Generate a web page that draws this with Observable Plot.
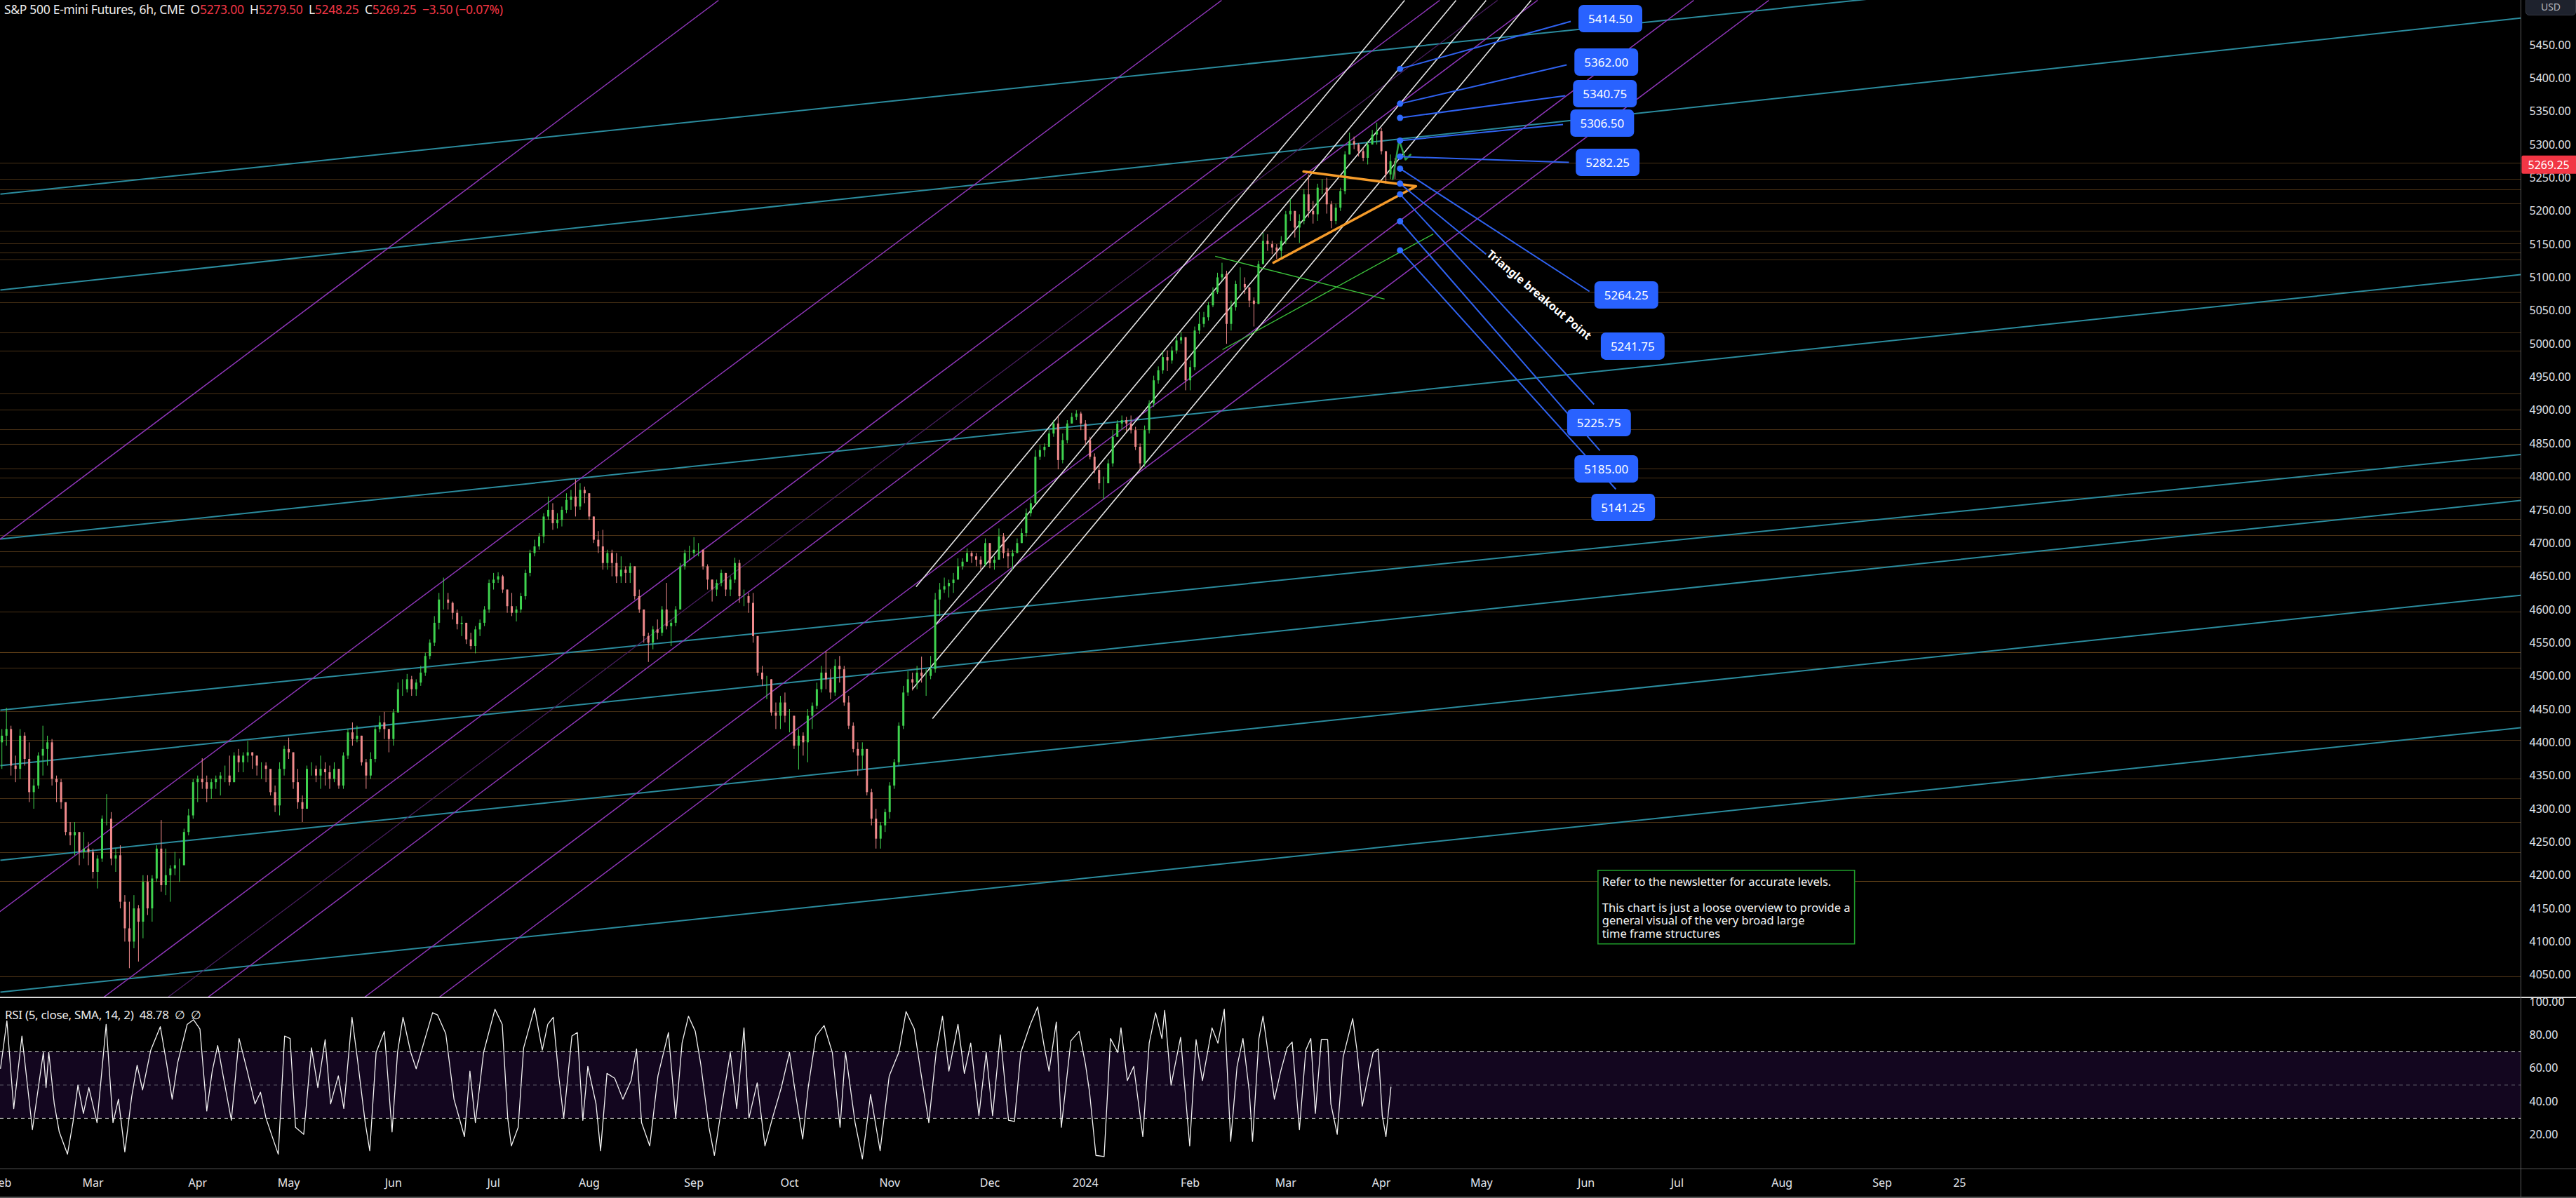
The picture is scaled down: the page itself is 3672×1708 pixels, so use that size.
<!DOCTYPE html>
<html>
<head>
<meta charset="utf-8">
<script src="https://cdn.jsdelivr.net/npm/d3@7"></script>
<script src="https://cdn.jsdelivr.net/npm/@observablehq/plot@0.6"></script>
<style>
  html, body { margin: 0; padding: 0; background: #000; }
  #wrap { position: relative; width: 3672px; height: 1708px; overflow: hidden; background: #000; font-family: "Noto Sans", sans-serif; }
  #wrap svg { display: block; }
  .title { position: absolute; left: 6px; top: 1px; font-size: 17.5px; color: #ececec; white-space: pre; letter-spacing: -0.3px; }
  .title .v { color: #f23645; }
  .rsilab { position: absolute; left: 7px; top: 1435px; font-size: 17px; color: #ececec; white-space: pre; letter-spacing: -0.3px; }
  .usd { position: absolute; left: 3600px; top: -4px; width: 70px; height: 24px; background: #1e222d; border: 1px solid #363a45; border-radius: 5px; color: #b2b5be; font-size: 14px; text-align: center; line-height: 26px; }
  .hline { position: absolute; left: 0; width: 3672px; }
  .vline { position: absolute; top: 0; width: 1px; height: 1708px; background: #5a5a5a; left: 3593px; }
</style>
</head>
<body>
<div id="wrap"></div>
<script>
// ---------------- DATA ----------------
const instrument = "S&P 500 E-mini Futures, 6h, CME";
const ohlcLetters = ["O", "H", "L", "C"];
const ohlcValues = [5273.00, 5279.50, 5248.25, 5269.25];
const changeText = "\u22123.50 (\u22120.07%)";
const rsiTitle = "RSI (5, close, SMA, 14, 2)";
const rsiLast = 48.78;

// daily candles, one per weekday starting 2023-02-01 (index = weekday number)
const firstDay = "2023-02-01";
const firstOpen = 4400;
const candleHigh = [
  4420,4452,4425,4380,4420,4415,4400,4345,4385,4425,4410,4405,4350,4345,4305,4280,4280,4250,4265,4250,
  4240,4230,4290,4322,4295,4240,4245,4170,4160,4170,4155,4200,4200,4200,4245,4283,4240,4215,4235,4225,4270,4300,4345,
  4350,4376,4350,4345,4350,4355,4365,4380,4385,4390,4385,4402,4385,4380,4370,4370,4355,4335,4370,4395,
  4407,4385,4360,4320,4365,4370,4365,4380,4370,4365,4370,4360,4385,4420,4430,4425,4410,4375,4385,4425,4440,4446,4420,
  4450,4490,4495,4503,4500,4495,4515,4535,4555,4590,4625,4648,4625,4612,4600,4590,4580,4565,4575,4585,4605,4645,
  4655,4656,4652,4630,4625,4605,4625,4660,4690,4705,4715,4745,4770,4760,4745,4755,4775,4780,4796,4790,4785,
  4775,4740,4718,4720,4690,4690,4685,4680,4665,4670,4665,4630,4600,4565,4575,4585,4605,4640,4585,4605,4670,4690,4696,
  4709,4700,4690,4668,4645,4645,4660,4655,4650,4678,4675,4630,4625,4625,4560,4515,4500,4495,4460,4470,4475,
  4450,4440,4420,4415,4450,4460,4490,4515,4537,4510,4525,4530,4515,4470,4430,4400,4400,4385,4330,4300,4280,4300,
  4340,4375,4430,4485,4507,4505,4515,4529,4510,4530,4625,4640,4648,4645,4655,4677,4677,4692,4688,4685,4680,4707,
  4700,4680,4722,4715,4692,4690,4707,4722,4752,4766,4840,4848,4850,4870,4885,4892,4865,4885,4896,4900,4898,
  4885,4860,4835,4818,4800,4826,4870,4885,4892,4890,4892,4875,4850,4877,4915,4952,4966,4989,4990,4996,5011,5018,5005,
  4975,5026,5048,5048,5063,5085,5107,5122,5110,5065,5095,5115,5100,5085,5070,5125,5167,5165,5155,5150,5162,
  5200,5218,5200,5195,5233,5255,5215,5241,5248,5250,5215,5211,5235,5290,5318,5312,5302,5295,5305,5322,5333,
  5325,5290,5285,5279.5
];
const candleLow = [
  4360,4395,4350,4340,4345,4365,4310,4300,4330,4350,4365,4335,4310,4300,4260,4245,4230,4215,4225,4215,
  4195,4180,4220,4275,4215,4205,4150,4100,4060,4090,4070,4105,4140,4130,4190,4175,4170,4160,4200,4190,4215,4260,4285,
  4310,4330,4310,4315,4330,4320,4340,4335,4340,4355,4355,4370,4360,4350,4345,4340,4320,4295,4290,4350,
  4375,4330,4300,4280,4300,4350,4340,4330,4335,4330,4340,4330,4330,4375,4395,4400,4365,4330,4345,4370,4415,4405,4385,
  4395,4445,4470,4475,4470,4470,4485,4500,4525,4545,4570,4600,4600,4585,4570,4560,4548,4540,4534,4560,4575,4595,
  4630,4640,4625,4595,4590,4582,4595,4615,4650,4680,4690,4700,4735,4720,4722,4725,4745,4750,4740,4750,4760,
  4735,4700,4685,4660,4660,4650,4640,4640,4640,4640,4615,4595,4550,4521,4540,4555,4560,4570,4545,4575,4600,4660,4675,
  4680,4680,4660,4630,4612,4620,4635,4620,4620,4640,4610,4605,4595,4550,4500,4485,4465,4440,4420,4420,4430,
  4415,4390,4359,4380,4370,4420,4450,4475,4480,4465,4470,4490,4455,4420,4385,4350,4360,4320,4275,4240,4240,4265,
  4285,4330,4365,4420,4470,4478,4480,4490,4470,4495,4505,4590,4625,4618,4625,4645,4660,4672,4670,4665,4660,4665,
  4662,4660,4680,4677,4662,4660,4685,4700,4710,4740,4760,4825,4830,4845,4860,4811,4820,4850,4880,4885,4870,
  4848,4826,4805,4781,4766,4790,4815,4860,4870,4868,4865,4840,4811,4815,4865,4905,4940,4955,4959,4970,4985,5000,4930,
  4930,4960,5015,5025,5035,5055,5075,5095,5000,5020,5050,5080,5075,5055,5026,5060,5120,5140,5135,5128,5130,
  5150,5185,5160,5152,5180,5190,5181,5185,5225,5196,5174,5180,5200,5225,5285,5293,5282,5275,5270,5300,5300,
  5285,5241,5248,5248.25
];
const candleClose = [
  4410,4420,4365,4360,4410,4375,4325,4335,4380,4390,4400,4345,4340,4310,4265,4260,4265,4235,4240,4235,
  4205,4225,4285,4285,4225,4230,4160,4120,4100,4150,4130,4190,4150,4195,4240,4185,4200,4210,4215,4215,4265,4290,4340,
  4345,4340,4330,4340,4345,4350,4350,4340,4380,4370,4380,4385,4380,4365,4365,4360,4325,4305,4360,4390,
  4385,4340,4310,4300,4360,4360,4350,4360,4355,4345,4360,4335,4380,4415,4405,4410,4370,4350,4375,4420,4430,4420,4405,
  4445,4480,4480,4495,4480,4490,4505,4530,4550,4580,4615,4615,4610,4595,4578,4580,4555,4545,4570,4580,4600,4640,
  4645,4650,4630,4605,4595,4600,4620,4655,4685,4695,4710,4740,4750,4730,4735,4750,4765,4770,4755,4780,4775,
  4740,4705,4695,4670,4685,4670,4650,4660,4655,4665,4620,4600,4560,4550,4570,4565,4600,4575,4580,4600,4665,4685,4685,
  4690,4690,4665,4645,4630,4640,4655,4630,4645,4670,4620,4620,4610,4560,4505,4495,4495,4445,4440,4460,4440,
  4440,4395,4410,4400,4440,4455,4480,4505,4495,4475,4515,4510,4460,4425,4390,4380,4390,4325,4285,4255,4275,4295,
  4335,4370,4425,4475,4495,4490,4505,4500,4500,4510,4615,4630,4635,4640,4645,4665,4672,4685,4680,4675,4668,4700,
  4670,4675,4710,4685,4680,4685,4700,4715,4745,4760,4830,4840,4845,4865,4880,4825,4855,4880,4890,4895,4880,
  4855,4830,4810,4790,4790,4820,4860,4880,4885,4880,4870,4845,4820,4870,4910,4945,4960,4980,4975,4990,5005,5010,4945,
  4965,5020,5030,5040,5058,5078,5100,5105,5030,5055,5090,5090,5085,5065,5060,5120,5155,5150,5145,5140,5155,
  5195,5200,5175,5185,5225,5200,5195,5235,5235,5210,5185,5205,5230,5285,5305,5300,5290,5280,5300,5315,5320,
  5290,5255,5275,5269.25
];

// RSI(5): time in weekday units, value
const rsiT = [-0.3,1.1,2.6,4.4,6.7,9.1,9.7,10.3,11.5,12.6,14.4,15.6,16.7,17.9,19.1,20.9,22.9,24.4,25.6,27,28.5,29.7,30.9,32.7,34.8,36.2,37.4,38.6,40.7,42.1,43.5,45,46.2,47.4,48.6,50.4,52.1,53.9,55.6,56.8,58,59.2,60.7,62.1,63.3,64.5,66.3,68,69.4,71,72.2,73.9,75.1,76.9,78.1,79.8,80.8,82.2,84,85.7,86.9,88.1,89.8,91,92.2,94.6,95.7,97.5,99.3,101.6,102.8,104,105.8,108.3,109.9,111.1,111.9,113.4,114.6,117,118.7,119.9,121.1,122.3,123.4,125.2,126.4,127.6,128.7,130.5,131.5,132.9,134.6,136.4,138.2,139.4,140.5,142.3,144.1,146.4,148,149.4,150.8,152.3,153.5,155.3,156.5,158.2,160,161.4,163,164.1,165.9,167.6,169.4,171.2,173,174.1,175.9,177.1,178.8,180.6,182.4,184.1,
  185.3,187.4,189,190.8,192.9,194.9,197,198.6,200.4,201.8,203.6,205.2,206.6,208,210,211.4,212.8,214.6,216.2,217.6,219.3,221.1,222.4,223.8,225.9,227.5,228.9,230,231.6,232.7,234.8,236.6,238,238.9,240.3,242.1,243.5,245.1,245.8,247.2,248.6,250.6,252,253.4,254.8,255.4,256.8,258.9,260.9,262.3,263.7,265.8,267.1,268.5,269.9,271.3,272.6,274,274.7,276.1,277,278.1,279.5,280.9,282.3,283.4,285,286.4,287.5,288.5,289.8,291.2,291.9,293.3,294.6,296.7,297.7,298.8,300.1,301.2,302.3,303.2,304,305.1];
const rsiV = [60,88.6,35.8,79.5,23.2,69.6,48.5,69.6,38.7,21.8,8.4,27.4,49.9,33,48.5,27.4,86.5,27.4,41.5,9.8,42.9,61.9,47.1,71,85.1,62.6,41.5,63.3,86.5,89.3,83.7,34.4,58.4,73.8,55.5,28.8,78,58.4,38.7,45.7,30.2,20.4,8.4,79.5,78,24.6,20.4,72.4,48.5,77.3,38.7,55.5,35.9,90.7,65.4,27.4,10.5,69.6,82.3,21.8,69.6,90.7,69.6,59.8,71,93.5,92.1,80.9,41.5,19,58.4,27.4,69.6,95.6,86.5,30.2,13.4,24.6,72.4,96.3,71,86.5,90.7,55.5,30.2,79.5,81.6,28.8,61.2,38.7,10.5,57,54.1,41.5,52.7,71.7,27.4,13.4,55.5,81.6,30.2,75.2,91.4,82.3,62.6,24.6,7.7,38.7,69.6,35.9,84.4,30.2,51.3,13.4,31.6,48.5,69.6,48.5,17.6,48.5,79.5,85.8,69.6,24.6,
  69.6,27.4,5.6,44.3,10.5,55.5,69.6,94.2,83.7,58.4,27.4,69.6,91.4,58.4,86.5,57,75.2,31.6,69.6,31.6,80.2,28.8,28.1,69.6,86.5,97,73.8,58.4,87.9,24.6,76.6,82.3,62.6,45.7,7.7,7,78,69.6,84.4,52.7,61.2,19,75.2,93.5,78,94.9,49.9,78.7,13.4,77.3,52.7,84.4,75.2,95.6,16.2,61.2,78,45.7,16.2,78,91.4,69.6,41.5,58.4,72.4,75.9,23.2,71,78,33,77.3,77.3,38.7,20.4,66.8,90,69.6,37.3,55.5,69.6,71.7,31.6,19,48.78];

// axes
const priceTicks = d3.range(4050, 5451, 50);
const rsiTicks = [20, 40, 60, 80, 100];
const rsiBands = [30, 70];
const rsiMid = [50];
const timeTickDates = ["2023-02-01","2023-03-01","2023-04-01","2023-05-01","2023-06-01","2023-07-01","2023-08-01","2023-09-01","2023-10-01","2023-11-01","2023-12-01","2024-01-01","2024-02-01","2024-03-01","2024-04-01","2024-05-01","2024-06-01","2024-07-01","2024-08-01","2024-09-01","2024-09-25"];
const timeTickLabels = ["Feb","Mar","Apr","May","Jun","Jul","Aug","Sep","Oct","Nov","Dec","2024","Feb","Mar","Apr","May","Jun","Jul","Aug","Sep","25"];

// horizontal levels (price)
const levels = [5272.6,5248.3,5232.5,5211.4,5170.2,5151.2,5137.4,5126.9,5078.3,5062.5,5017.1,4989.6,4925.2,4900.9,4871.3,4849.2,4812.2,4798.5,4768.9,4736.2,4711.9,4687.6,4665.0,4596.8,4535.6,4512.3,4446.8,4403.5,4345.5,4315.9,4280,4234.6,4191.3,4047.7];
const brightLevels = [4535.6, 4191.3];

// trend lines as [t1, p1, t2, p2]  (t = weekday index, p = price)
const tealLines = [
  [-0.34,5226,553.3,5622],[-0.34,5081.5,553.3,5491],[-0.34,4706.6,553.3,5104.7],[-0.34,4449,553.3,4834],
  [-0.34,4365.5,553.3,4764.7],[-0.34,4223,553.3,4622],[-0.34,4024.5,553.3,4422.6]
];
const purpleLines = [
  [-134.7,4016,157.4,5517.6],[-25.8,4016,267.9,5517.6],[22.2,4016,315.8,5517.6],[45.1,4016,337.3,5517.6],
  [79.5,4016,371.6,5517.6],[95.9,4016,388.1,5517.6]
];
const purpleDimLines = [[36.3,4016,328.5,5517.6]];
const whiteLines = [
  [200.8,4634.8,308.1,5517.6],[205.1,4577.8,319.4,5517.6],[200,4480.6,326.0,5517.6],[204.4,4436.3,335.9,5517.6]
];
const greenLines = [[266.5,5132.2,303.7,5067.8],[268.1,4991.7,314.4,5165.9]];
const triangleT = [285.9, 310.6, 279.3];
const triangleP = [5259.9, 5237.7, 5122.7];
const zigzagT = [305.5, 306.9, 308.3, 309.4];
const zigzagP = [5248.3, 5307.4, 5277.9, 5285.3];

// projected targets
const targetValues = [5414.50, 5362.00, 5340.75, 5306.50, 5282.25, 5264.25, 5241.75, 5225.75, 5185.00, 5141.25];
const targetOriginT = 307.1;
const targetLineEndT = [344.6, 343.7, 343.4, 342.9, 344.2, 348.7, 326.0, 349.7, 351.0, 354.5];
const targetLineEndP = [5485.9, 5420.4, 5374.0, 5330.7, 5273.7, 5079.4, 5135.3, 4909.4, 4839.7, 4781.6];
const targetLabelT = [353.3, 352.4, 352.1, 351.5, 352.7, 356.8, 358.2, 350.8, 352.4, 356.1];
const targetLabelP = [5489.1, 5423.6, 5376.1, 5331.7, 5272.6, 5073.0, 4996.0, 4880.8, 4811.2, 4753.1];
const breakoutText = "Triangle breakout Point";
const breakoutAt = [337.6, 5074.0];
const noteText = "Refer to the newsletter for accurate levels.\n\nThis chart is just a loose overview to provide a\ngeneral visual of the very broad large\ntime frame structures";
const noteAt = [351.5, 4198.5];

// ---------------- LAYOUT ----------------
const W = 3672, MAIN_H = 1422, LOW_H = 286, AXIS_W = 79;
const xDomain = [-0.34, 553.3];
const priceDomain = [4016, 5517.6];
const FONT = "Noto Sans";

const day0 = new Date(firstDay + "T00:00:00Z");
function weekdayIndex(s) {
  const d = new Date(s + "T00:00:00Z");
  let n = 0;
  for (let t = new Date(day0); t < d; t.setUTCDate(t.getUTCDate() + 1)) {
    const w = t.getUTCDay();
    if (w !== 0 && w !== 6) n++;
  }
  return n;
}
const timeTickIdx = timeTickDates.map(weekdayIndex);
const tickLabelOf = new Map(timeTickIdx.map((t, i) => [t, timeTickLabels[i]]));

const candles = candleHigh.map((h, i) => {
  const open = i === 0 ? firstOpen : candleClose[i - 1];
  return {t: i, high: h, low: candleLow[i], close: candleClose[i], open, up: candleClose[i] >= open};
});
const seg = a => a.map(([t1, p1, t2, p2]) => ({t1, p1, t2, p2}));
const triangle = triangleT.map((t, i) => ({t, p: triangleP[i]}));
const zigzag = zigzagT.map((t, i) => ({t, p: zigzagP[i]}));
const targets = targetValues.map((v, i) => ({
  v, t0: targetOriginT, t1: targetLineEndT[i], p1: targetLineEndP[i], lt: targetLabelT[i], lp: targetLabelP[i]
}));
const rsi = rsiT.map((t, i) => ({t, v: rsiV[i]}));

const UP = "#3fd34f", DOWN = "#f08a8c";
const linkOpts = {x1: "t1", y1: "p1", x2: "t2", y2: "p2", clip: true};

const mainPlot = Plot.plot({
  width: W, height: MAIN_H,
  marginLeft: 0, marginRight: AXIS_W, marginTop: 0, marginBottom: 0,
  style: {background: "#000", color: "#e3e6ec", fontFamily: FONT, fontSize: "16px", overflow: "hidden"},
  x: {type: "linear", domain: xDomain, axis: null},
  y: {type: "linear", domain: priceDomain, axis: null},
  marks: [
    Plot.ruleY(levels, {stroke: "#4a3216", strokeWidth: 1}),
    Plot.ruleY(brightLevels, {stroke: "#6e4a1c", strokeWidth: 1}),
    Plot.link(seg(tealLines), {...linkOpts, stroke: "#2b8c9e", strokeWidth: 2}),
    Plot.link(seg(purpleDimLines), {...linkOpts, stroke: "#4b1f63", strokeWidth: 1.2}),
    Plot.link(seg(purpleLines), {...linkOpts, stroke: "#8e36b8", strokeWidth: 1.5}),
    Plot.link(seg(whiteLines), {...linkOpts, stroke: "#e6e6e6", strokeWidth: 1.6}),
    Plot.ruleX(candles, {x: "t", y1: "low", y2: "high", stroke: d => d.up ? UP : DOWN, strokeWidth: 1}),
    Plot.ruleX(candles, {x: "t", y1: "open", y2: "close", stroke: d => d.up ? UP : DOWN, strokeWidth: 3}),
    Plot.link(seg(greenLines), {...linkOpts, stroke: "#3cc43c", strokeWidth: 1.3}),
    Plot.line(triangle, {x: "t", y: "p", stroke: "#f59b2a", strokeWidth: 3.5}),
    Plot.line(zigzag, {x: "t", y: "p", stroke: "#2ea043", strokeWidth: 2.5}),
    Plot.link(targets, {x1: "t0", y1: "v", x2: "t1", y2: "p1", stroke: "#2f62f0", strokeWidth: 2}),
    Plot.dot(targets, {x: "t0", y: "v", r: 4.5, fill: "#2f6bff"}),
    Plot.text([breakoutText], {x: () => breakoutAt[0], y: () => breakoutAt[1], text: d => d, rotate: 40, fill: "#fff", fontSize: 16, fontWeight: "bold"}),
    Plot.text(targets, {x: "lt", y: "lp", text: d => d.v.toFixed(2), fill: "#fff", fontSize: 17}),
    Plot.text([noteText], {x: () => noteAt[0], y: () => noteAt[1], text: d => d, textAnchor: "start", lineAnchor: "top", lineHeight: 1.12, fontSize: 16.5, fill: "#f2f2f2"}),
    Plot.axisY(priceTicks, {anchor: "right", tickSize: 0, tickPadding: 12, tickFormat: d => d.toFixed(2), label: null, fontSize: 16}),
    Plot.text([ohlcValues[3]], {y: d => d, frameAnchor: "right", dx: 10, textAnchor: "start", fill: "#fff", fontSize: 16, text: d => d.toFixed(2)})
  ]
});

const lowPlot = Plot.plot({
  width: W, height: LOW_H,
  marginLeft: 0, marginRight: AXIS_W, marginTop: 0, marginBottom: 41,
  style: {background: "#000", color: "#e3e6ec", fontFamily: FONT, fontSize: "16px", overflow: "hidden"},
  x: {type: "linear", domain: xDomain, axis: null},
  y: {type: "linear", domain: [-0.84, 102.5], axis: null},
  marks: [
    Plot.rect([rsiBands], {x1: () => xDomain[0], x2: () => xDomain[1], y1: d => d[0], y2: d => d[1], fill: "#13061f"}),
    Plot.ruleY(rsiBands, {stroke: "#cfcfcf", strokeDasharray: "5,5", strokeWidth: 1}),
    Plot.ruleY(rsiMid, {stroke: "#5e5a6a", strokeDasharray: "5,5", strokeWidth: 1}),
    Plot.line(rsi, {x: "t", y: "v", stroke: "#f4f4f4", strokeWidth: 1.3}),
    Plot.axisY(rsiTicks, {anchor: "right", tickSize: 0, tickPadding: 12, tickFormat: d => d.toFixed(2), label: null, fontSize: 16}),
    Plot.axisX(timeTickIdx, {anchor: "bottom", tickSize: 0, tickPadding: 13, tickFormat: d => tickLabelOf.get(d), label: null, fontSize: 16})
  ]
});

const wrap = document.getElementById("wrap");
wrap.appendChild(mainPlot);
wrap.appendChild(lowPlot);

// draw boxes behind specific texts (found by their content)
const NS = "http://www.w3.org/2000/svg";
function boxBehind(t, padX, padY, attrs, fixed) {
  const b = t.getBBox();
  const r = document.createElementNS(NS, "rect");
  if (fixed) { r.setAttribute("x", b.x - fixed.left); r.setAttribute("width", fixed.w); }
  else { r.setAttribute("x", b.x - padX); r.setAttribute("width", b.width + 2 * padX); }
  r.setAttribute("y", b.y - padY); r.setAttribute("height", b.height + 2 * padY);
  for (const k in attrs) r.setAttribute(k, attrs[k]);
  const tr = t.getAttribute("transform");
  if (tr) r.setAttribute("transform", tr);
  t.parentNode.insertBefore(r, t);
}
const targetStrings = new Set(targetValues.map(v => v.toFixed(2)));
const tagString = ohlcValues[3].toFixed(2);
let tagDone = false;
Array.from(mainPlot.querySelectorAll("text")).forEach(t => {
  const s = (t.textContent || "").trim();
  if (s === tagString && !tagDone) {
    tagDone = true;
    boxBehind(t, 0, 2, {fill: "#f23645", rx: 2}, {left: 9, w: 80});
  } else if (targetStrings.has(s)) {
    boxBehind(t, 14, 8, {fill: "#2962ff", rx: 7, ry: 7});
  } else if (s.startsWith("Refer")) {
    boxBehind(t, 6, 4, {fill: "#000", stroke: "#1f9a2a", "stroke-width": 1.6});
  }
});

// overlays: title, RSI label, separators, currency box
const title = document.createElement("div");
title.className = "title";
let html = instrument.replace("&", "&amp;") + "  ";
ohlcLetters.forEach((l, i) => { html += l + '<span class="v">' + ohlcValues[i].toFixed(2) + "</span>  "; });
html += '<span class="v">' + changeText + "</span>";
title.innerHTML = html;
wrap.appendChild(title);

const rl = document.createElement("div");
rl.className = "rsilab";
rl.textContent = rsiTitle + "  " + rsiLast.toFixed(2) + "  \u2205  \u2205";
wrap.appendChild(rl);

function hline(top, color, h) {
  const d = document.createElement("div");
  d.className = "hline";
  d.style.top = top + "px"; d.style.height = h + "px"; d.style.background = color;
  wrap.appendChild(d);
}
hline(1421, "#d9d9d9", 2);
hline(1666, "#555", 1);
hline(1706, "#555", 2);
const vl = document.createElement("div");
vl.className = "vline";
wrap.appendChild(vl);
const usd = document.createElement("div");
usd.className = "usd";
usd.textContent = "USD";
wrap.appendChild(usd);
</script>
</body>
</html>
